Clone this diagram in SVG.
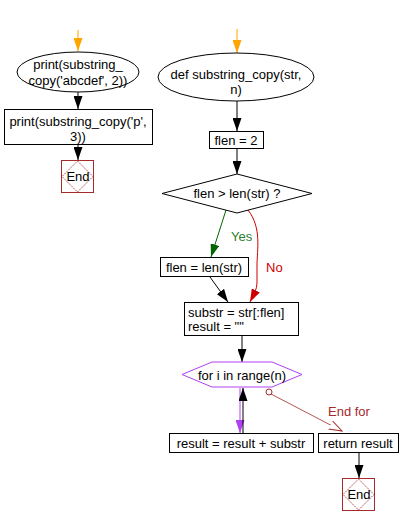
<svg xmlns="http://www.w3.org/2000/svg" width="401" height="526" viewBox="0 0 401 526">
<defs>
<style>
.n{fill:#fff;stroke:#000;stroke-width:1}
.t{font-family:"Liberation Sans",Arial,sans-serif;font-size:13px;fill:#000;text-anchor:middle}
.tl{font-family:"Liberation Sans",Arial,sans-serif;font-size:13px;fill:#000}
.e{fill:#fff;stroke:#a52a2a;stroke-width:1}
.ed{fill:none;stroke:#a52a2a;stroke-width:0.8;stroke-dasharray:2,1}
.c{fill:none;stroke:#000;stroke-width:1}
</style>
<marker id="ab" markerWidth="13" markerHeight="9" refX="13" refY="4.5" orient="auto" markerUnits="userSpaceOnUse" viewBox="0 0 13 9"><path d="M0,0 L13,4.5 L0,9 Z" fill="#000"/></marker>
<marker id="ao" markerWidth="13" markerHeight="9" refX="13" refY="4.5" orient="auto" markerUnits="userSpaceOnUse" viewBox="0 0 13 9"><path d="M0,0 L13,4.5 L0,9 Z" fill="#ffa500"/></marker>
<marker id="ag" markerWidth="13" markerHeight="9" refX="13" refY="4.5" orient="auto" markerUnits="userSpaceOnUse" viewBox="0 0 13 9"><path d="M0,0 L13,4.5 L0,9 Z" fill="#006400"/></marker>
<marker id="ar" markerWidth="13" markerHeight="9" refX="13" refY="4.5" orient="auto" markerUnits="userSpaceOnUse" viewBox="0 0 13 9"><path d="M0,0 L13,4.5 L0,9 Z" fill="#cc0000"/></marker>
<marker id="ap" markerWidth="13" markerHeight="9" refX="13" refY="4.5" orient="auto" markerUnits="userSpaceOnUse" viewBox="0 0 13 9"><path d="M0,0 L13,4.5 L0,9 Z" fill="#b040f0"/></marker>
<marker id="aw" markerWidth="14" markerHeight="10" refX="13" refY="5" orient="auto" markerUnits="userSpaceOnUse" viewBox="0 0 14 10"><path d="M0,0.5 L13,5 L0,9.5" fill="#fff" stroke="#a52a2a" stroke-width="1"/></marker>
</defs>

<g id="connectors">
<line x1="78" y1="30" x2="78" y2="51" stroke="#ffa500" stroke-width="1" marker-end="url(#ao)"/>
<line x1="78" y1="92" x2="78" y2="109" class="c" marker-end="url(#ab)"/>
<line x1="78" y1="145" x2="78" y2="160" class="c" marker-end="url(#ab)"/>
<line x1="237" y1="29" x2="237" y2="53" stroke="#ffa500" stroke-width="1" marker-end="url(#ao)"/>
<line x1="237" y1="101" x2="237" y2="131" class="c" marker-end="url(#ab)"/>
<line x1="237" y1="149" x2="237" y2="174" class="c" marker-end="url(#ab)"/>
<line x1="226" y1="210" x2="211" y2="257" stroke="#006400" stroke-width="1" marker-end="url(#ag)"/>
<text x="231" y="241" class="tl" style="fill:#2e7d32">Yes</text>
<path d="M248,210 C262,228 257,250 257,265 L257,282 C257,290 253,296 250,302" fill="none" stroke="#cc0000" stroke-width="1" marker-end="url(#ar)"/>
<text x="266" y="272" class="tl" style="fill:#cc0000">No</text>
<line x1="210" y1="277" x2="228" y2="302" class="c" marker-end="url(#ab)"/>
<line x1="242" y1="336" x2="242" y2="362" class="c" marker-end="url(#ab)"/>
<line x1="240" y1="388" x2="240" y2="433" stroke="#b040f0" stroke-width="1" marker-end="url(#ap)"/>
<line x1="243" y1="433" x2="243" y2="388" class="c" marker-end="url(#ab)"/>
<circle cx="269" cy="392" r="3" fill="#fff" stroke="#a52a2a" stroke-width="1"/>
<line x1="271" y1="394" x2="342" y2="431" stroke="#a52a2a" stroke-width="0.8" marker-end="url(#aw)"/>
<text x="328" y="416" class="tl" style="fill:#a52a2a">End for</text>
<line x1="359" y1="453" x2="359" y2="478" class="c" marker-end="url(#ab)"/>
</g>

<g id="start1">
<ellipse cx="78" cy="72" rx="61" ry="20" class="n"/>
<text x="78" y="68.5" class="t">print(substring_</text>
<text x="78" y="85" class="t">copy('abcdef', 2))</text>
</g>
<g id="print2">
<rect x="4.5" y="109.5" width="148" height="35" class="n"/>
<text x="78" y="125.5" class="t">print(substring_copy('p',</text>
<text x="78" y="141" class="t">3))</text>
</g>
<g id="end1">
<rect x="61.5" y="160.5" width="32" height="32" class="e"/>
<path d="M77.5,161 L93,176.5 L77.5,192 L62,176.5 Z" class="ed"/>
<text x="78" y="181" class="t">End</text>
</g>

<g id="def">
<ellipse cx="236" cy="77" rx="78" ry="24" class="n"/>
<text x="236" y="78.5" class="t">def substring_copy(str,</text>
<text x="236" y="94" class="t">n)</text>
</g>
<g id="flen2">
<rect x="209.5" y="131.5" width="54" height="17" class="n"/>
<text x="236" y="144.5" class="t">flen = 2</text>
</g>
<g id="cond">
<path d="M237,174 L312,193.5 L237,213 L162,193.5 Z" class="n"/>
<text x="237" y="198" class="t">flen &gt; len(str) ?</text>
</g>
<g id="flenlen">
<rect x="160.5" y="257.5" width="88" height="19" class="n"/>
<text x="204" y="271.5" class="t">flen = len(str)</text>
</g>
<g id="substr">
<rect x="184.5" y="302.5" width="114" height="33" class="n"/>
<text x="188" y="316.5" class="tl">substr = str[:flen]</text>
<text x="188" y="331" class="tl">result = ""</text>
</g>
<g id="loop">
<path d="M182,374.5 L212,362 L272,362 L302,374.5 L272,387 L212,387 Z" fill="#fff" stroke="#b040f0" stroke-width="1"/>
<text x="242" y="379.5" class="t">for i in range(n)</text>
</g>
<g id="accum">
<rect x="169.5" y="433.5" width="144" height="19" class="n"/>
<text x="241" y="447.5" class="t">result = result + substr</text>
</g>
<g id="ret">
<rect x="318.5" y="433.5" width="80" height="19" class="n"/>
<text x="358" y="447.5" class="t">return result</text>
</g>
<g id="end2">
<rect x="342.5" y="478.5" width="32" height="32" class="e"/>
<path d="M358.5,479 L374,494.5 L358.5,510 L343,494.5 Z" class="ed"/>
<text x="359" y="499" class="t">End</text>
</g>
</svg>
